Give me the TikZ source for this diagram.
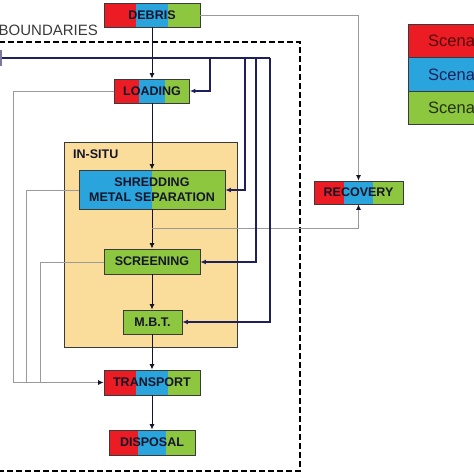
\documentclass[tikz,border=0pt]{standalone}
\usepackage{fontspec}
\setmainfont{Liberation Sans}
\usetikzlibrary{arrows.meta,calc}
\definecolor{cred}{HTML}{EC1C24}
\definecolor{cblue}{HTML}{29A4DC}
\definecolor{cgreen}{HTML}{8DC63F}
\definecolor{cnavy}{HTML}{1F1F5C}
\definecolor{cgray}{HTML}{9A9A9A}
\definecolor{corange}{HTML}{FADD9A}
\definecolor{ctext}{HTML}{15152A}
\definecolor{cborder}{HTML}{3A3A3A}
\tikzset{
  pbb/.style={},
  box/.style={draw=cborder, line width=0.9pt, inner sep=0pt, text=ctext,
    font=\fontsize{12.5}{15}\selectfont\bfseries, align=center},
  tri/.style={box, path picture={
    \fill[cred] (path picture bounding box.south west) rectangle ($(path picture bounding box.north west)!0.3333!(path picture bounding box.north east)$);
    \fill[cblue] ($(path picture bounding box.south west)!0.3333!(path picture bounding box.south east)$) rectangle ($(path picture bounding box.north west)!0.6667!(path picture bounding box.north east)$);
    \fill[cgreen] ($(path picture bounding box.south west)!0.6667!(path picture bounding box.south east)$) rectangle (path picture bounding box.north east);
  }},
  duo/.style={box, path picture={
    \fill[cblue] (path picture bounding box.south west) rectangle ($(path picture bounding box.north west)!0.5!(path picture bounding box.north east)$);
    \fill[cgreen] ($(path picture bounding box.south west)!0.5!(path picture bounding box.south east)$) rectangle (path picture bounding box.north east);
  }},
  mono/.style={box, fill=cgreen},
  flow/.style={draw=ctext, line width=0.8pt, -{Latex[length=5.5pt,width=5pt]}},
  feed/.style={draw=cnavy, line width=1.6pt, -{Latex[length=5.5pt,width=5pt]}},
  navyline/.style={draw=cnavy, line width=1.6pt},
  grayline/.style={draw=cgray, line width=0.8pt},
  grayarrow/.style={draw=cgray, line width=0.8pt, -{Latex[length=5.5pt,width=5pt,color=ctext]}},
  legend/.style={draw=cborder, line width=0.9pt},
  legtext/.style={font=\fontsize{16.5}{18}\selectfont, anchor=west, inner sep=0pt},
  bound/.style={draw=black, line width=1.5pt, dash pattern=on 6pt off 3pt}
}
\begin{document}
\begin{tikzpicture}[x=1pt,y=-1pt]
\useasboundingbox (0,0) rectangle (474,474);
\clip (0,0) rectangle (474,474);
\fill[white] (0,0) rectangle (474,474);
% system boundary
\draw[bound] (-10,42) -- (300,42) -- (300,471) -- (-10,471);
\node[anchor=base west, inner sep=0pt, text=cborder, font=\fontsize{15}{18}\selectfont] (bnd) at (-1.5,35.5) {BOUNDARIES};
% in-situ area
\draw[fill=corange, draw=cborder, line width=0.9pt] (64,142) rectangle (237,347);
\node[anchor=west, inner sep=0pt, text=ctext, font=\fontsize{12.5}{15}\selectfont\bfseries] (insitu) at (73,154) {IN-SITU};
% legend
\draw[legend, fill=cred] (408,24) rectangle (490,57);
\draw[legend, fill=cblue] (408,57) rectangle (490,91);
\draw[legend, fill=cgreen] (408,91) rectangle (490,124);
\node[legtext, text=cred!35!black] (l1) at (428,41) {Scenario 1};
\node[legtext, text=cnavy] (l2) at (428,74.5) {Scenario 2};
\node[legtext, text=cgreen!25!black] (l3) at (428,108) {Scenario 3};
% nodes
\node[tri, minimum width=96pt, minimum height=24pt] (debris) at (152,15) {DEBRIS};
\node[tri, minimum width=75pt, minimum height=24pt] (loading) at (152,91) {LOADING};
\node[duo, minimum width=146pt, minimum height=39pt] (shred) at (152,189.5) {SHREDDING\\METAL SEPARATION};
\node[mono, minimum width=96pt, minimum height=25pt] (screen) at (152,261.5) {SCREENING};
\node[mono, minimum width=59pt, minimum height=24pt] (mbt) at (152.5,322) {M.B.T.};
\node[tri, minimum width=96pt, minimum height=25pt] (transport) at (152,382.5) {TRANSPORT};
\node[tri, minimum width=86pt, minimum height=25pt] (disposal) at (152,442.5) {DISPOSAL};
\node[tri, minimum width=89pt, minimum height=23pt] (recovery) at (358.5,192.5) {RECOVERY};
% coordinates
\coordinate (nl) at (1.5,58);
\coordinate (n1) at (210,58);
\coordinate (n2) at (245,58);
\coordinate (n3) at (256,58);
\coordinate (n4) at (270,58);
\coordinate (rj) at (152,228);
\coordinate (g1) at (13,382.5);
\coordinate (g2) at (26,382.5);
\coordinate (g3) at (40,382.5);
% main flow
\draw[flow] (debris) -- (loading);
\draw[flow] (loading) -- (shred);
\draw[flow] (shred) -- (screen);
\draw[flow] (screen) -- (mbt.north -| screen.south);
\draw[flow] (mbt.south -| screen.south) -- (transport);
\draw[flow] (transport) -- (disposal);
% recovery
\draw[grayarrow] (debris.east) -| (recovery.north);
\draw[grayarrow] (rj) -| (recovery.south);
% return lines to transport
\draw[grayline] (loading.west) -| (g1);
\draw[grayline] (shred.west |- 0,190) -| (g2);
\draw[grayline] (screen.west |- 0,262) -| (g3);
\draw[grayarrow] (g1) -- (transport.west);
% navy feed lines
\draw[navyline] (nl) -- (n4);
\draw[draw=cnavy!60, line width=2pt] (1.2,50) -- (1.2,66);
\draw[feed] (n1) |- (loading.east);
\draw[feed] (n2) |- (shred.east |- 0,190);
\draw[feed] (n3) |- (screen.east |- 0,262);
\draw[feed] (n4) |- (mbt.east);
\end{tikzpicture}
\end{document}
